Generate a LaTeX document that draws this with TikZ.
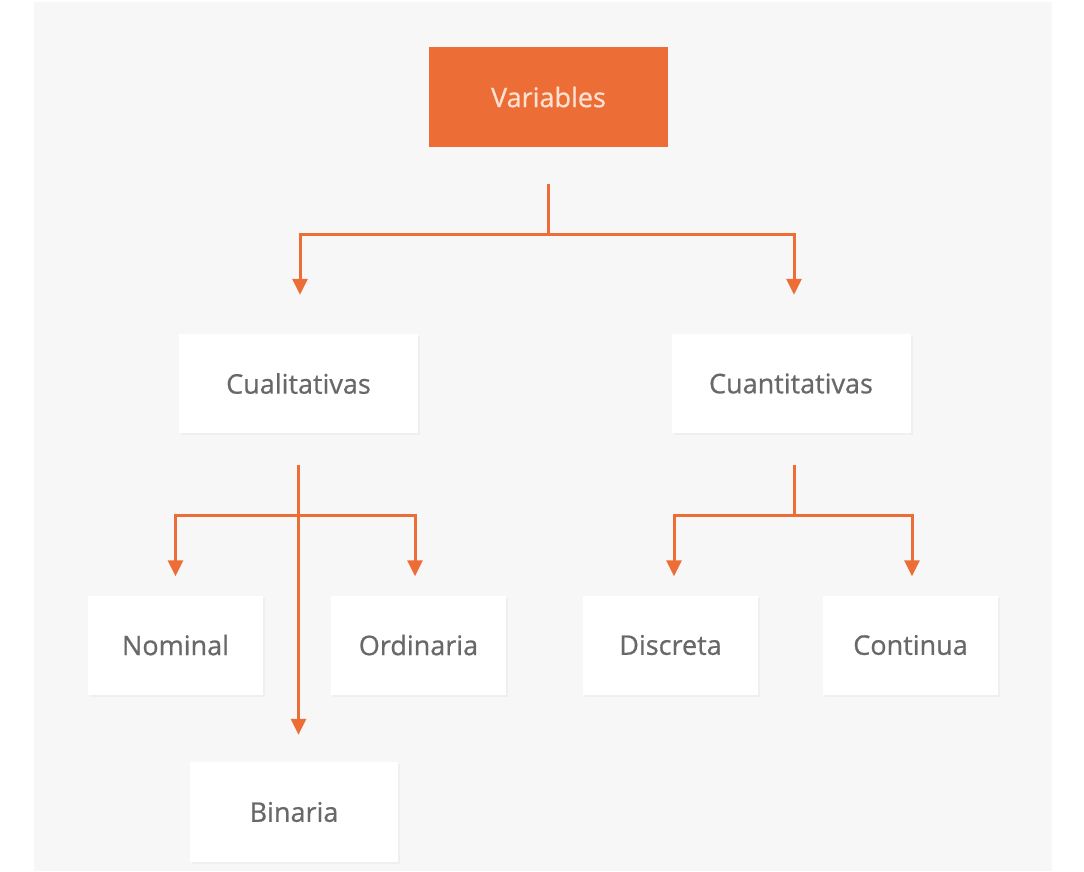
\documentclass[tikz,border=0pt]{standalone}
\usepackage{fontspec}
\setmainfont{Open Sans}
\newfontfamily\medfont{Open Sans}[FakeBold=0.7]
\usetikzlibrary{arrows.meta,shadows}
\definecolor{bgray}{HTML}{F7F7F7}
\definecolor{orng}{HTML}{EC6D35}
\definecolor{txtg}{HTML}{686868}
\definecolor{vtxt}{HTML}{FDE2D2}
\tikzset{
  box/.style={draw=none, fill=white, minimum width=#1, minimum height=99pt, inner sep=0pt,
    font=\medfont\fontsize{27}{32}\selectfont, text=txtg,
    drop shadow={shadow xshift=2pt, shadow yshift=-2pt, fill=black!8, opacity=0.6}},
  box/.default=239pt,
  topbox/.style={fill=orng, minimum width=239pt, minimum height=100pt, inner sep=0pt,
    font=\medfont\fontsize{27}{32}\selectfont, text=vtxt},
  conn/.style={draw=orng, line width=3pt, -{Triangle[width=15pt,length=16pt]}},
}
\begin{document}
\begin{tikzpicture}[x=1pt,y=1pt]
\useasboundingbox (0,0) rectangle (1084,-871);
\fill[white] (0,0) rectangle (1084,-871);
\fill[bgray] (34,-2) rectangle (1052,-871);
\node[topbox] (var) at (548.5,-97) {Variables};
\node[box] (cual) at (298.5,-383.5) {Cualitativas};
\node[box] (cuant) at (791,-383.5) {Cuantitativas};
\node[box=175pt] (nom) at (175.5,-645) {Nominal};
\node[box=175pt] (ord) at (418.5,-645) {Ordinaria};
\node[box=175pt] (disc) at (670.5,-645) {Discreta};
\node[box=175pt] (cont) at (910.5,-645) {Continua};
\node[box=208pt, minimum height=100pt] (bin) at (294,-812) {Binaria};
\draw[conn, shorten <=37pt, shorten >=39pt] (var.south) -- ++(0,-87) -| ([xshift=1.5pt]cual.north);
\draw[conn, shorten <=37pt, shorten >=39pt] (var.south) -- ++(0,-87) -| ([xshift=3pt]cuant.north);
\draw[conn, shorten <=32pt, shorten >=19pt] (cual.south) -- ++(0,-82) -| (nom.north);
\draw[conn, shorten <=32pt, shorten >=19pt] (cual.south) -- ++(0,-82) -| ([xshift=-3.5pt]ord.north);
\draw[conn, shorten <=32pt, shorten >=27pt] (cual.south) -- (cual.south |- bin.north);
\draw[conn, shorten <=32pt, shorten >=19pt] ([xshift=3pt]cuant.south) -- ++(0,-82) -| ([xshift=3.5pt]disc.north);
\draw[conn, shorten <=32pt, shorten >=19pt] ([xshift=3pt]cuant.south) -- ++(0,-82) -| ([xshift=1.5pt]cont.north);
\end{tikzpicture}
\end{document}
